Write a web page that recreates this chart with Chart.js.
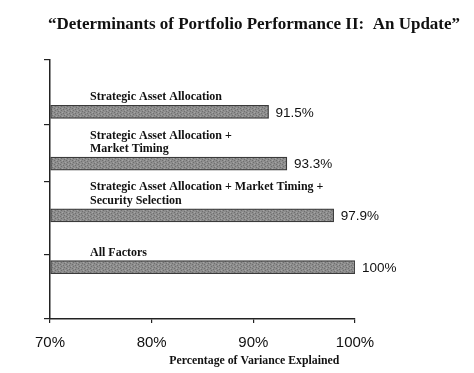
<!DOCTYPE html>
<html>
<head>
<meta charset="utf-8">
<script src="https://cdn.jsdelivr.net/npm/chart.js@4.4.0/dist/chart.umd.min.js"></script>
<style>
  html, body { margin: 0; padding: 0; background: #fff; }
  #wrap { width: 474px; height: 373px; }
</style>
</head>
<body>
<div id="wrap"><canvas id="chart"></canvas></div>
<script>
  'use strict';
  // data
  var categories = [
    ['Strategic Asset Allocation'],
    ['Strategic Asset Allocation +', 'Market Timing'],
    ['Strategic Asset Allocation + Market Timing +', 'Security Selection'],
    ['All Factors']
  ];
  var positions = [1, 2, 3, 4];
  var values = [91.5, 93.3, 97.9, 100];
  var valueLabels = ['91.5%', '93.3%', '97.9%', '100%'];
  var xTicks = [70, 80, 90, 100];
  var yTickMarks = [0, 1.25, 2.35, 3.75, 5];
  var chartTitle = '\u201cDeterminants of Portfolio Performance II:  An Update\u201d';
  var xTitle = 'Percentage of Variance Explained';

  var serif = '"Liberation Serif", "Times New Roman", serif';
  var sans = '"Liberation Sans", Arial, sans-serif';

  function each(arr, fn) { for (var i = 0; i < arr.length; i++) fn(i, arr[i]); }

  var points = [];
  each(values, function(i, v) {
    points.push({ x: v, y: positions[i] });
  });

  // stippled grey fill like the scanned bars
  function makeStipple() {
    var c = document.createElement('canvas');
    c.width = 6; c.height = 4;
    var g = c.getContext('2d');
    g.fillStyle = '#8e8e8e';
    g.fillRect(0, 0, 6, 4);
    g.fillStyle = '#6f6f6f';
    g.fillRect(0, 0, 1, 1); g.fillRect(3, 1, 1, 1);
    g.fillRect(1, 2, 1, 1); g.fillRect(4, 3, 1, 1);
    g.fillStyle = '#a6a6a6';
    g.fillRect(2, 0, 1, 1); g.fillRect(5, 2, 1, 1);
    return g.createPattern(c, 'repeat');
  }

  var textPlugin = {
    id: 'texts',
    afterDatasetsDraw: function(chart) {
      var ctx = chart.ctx;
      var xs = chart.scales.x;
      var meta = chart.getDatasetMeta(0);
      ctx.save();
      ctx.fillStyle = '#111';
      // title
      ctx.font = 'bold 17px ' + serif;
      ctx.textAlign = 'center';
      ctx.textBaseline = 'middle';
      ctx.fillText(chartTitle, 254, 25);
      // x title
      ctx.font = 'bold 11.8px ' + serif;
      ctx.fillText(xTitle, xs.getPixelForValue(90) + 1, 361);
      // labels above bars and values to the right
      each(meta.data, function(i, bar) {
        var top = bar.y - bar.height / 2;
        var lines = categories[i];
        ctx.font = 'bold 12px ' + serif;
        ctx.textAlign = 'left';
        ctx.textBaseline = 'alphabetic';
        for (var k = 0; k < lines.length; k++) {
          var yy = top - 5 - (lines.length - 1 - k) * 13.5;
          ctx.fillText(lines[k], 90, yy);
        }
        ctx.font = '13.5px ' + sans;
        ctx.textBaseline = 'middle';
        ctx.fillText(valueLabels[i], bar.x + 7, bar.y + 1);
      });
      ctx.restore();
    }
  };

  new Chart(document.getElementById('chart'), {
    type: 'bar',
    data: {
      datasets: [{
        data: points,
        base: 70,
        backgroundColor: makeStipple(),
        borderColor: '#3a3a3a',
        borderWidth: 1.2,
        borderSkipped: false,
        barThickness: 13
      }]
    },
    plugins: [textPlugin],
    options: {
      indexAxis: 'y',
      responsive: true,
      maintainAspectRatio: false,
      animation: false,
      layout: { padding: { top: 60, right: 119, left: 0, bottom: 0 } },
      plugins: {
        legend: { display: false },
        tooltip: { enabled: false }
      },
      scales: {
        x: {
          type: 'linear',
          min: 70,
          max: 100,
          afterBuildTicks: function(scale) {
            scale.ticks = xTicks.map(function(v) { return { value: v }; });
          },
          afterFit: function(scale) { scale.height = 54; },
          border: { display: true, color: '#222', width: 1.5 },
          grid: { drawOnChartArea: false, drawTicks: true, tickLength: 4, color: '#222', lineWidth: 1.2 },
          ticks: {
            padding: 11,
            color: '#111',
            font: { family: sans, size: 15 },
            maxRotation: 0,
            callback: function(v) { return v + '%'; }
          }
        },
        y: {
          type: 'linear',
          reverse: true,
          offset: false,
          min: 0,
          max: 5,
          afterBuildTicks: function(scale) {
            scale.ticks = yTickMarks.map(function(v) { return { value: v }; });
          },
          afterFit: function(scale) { scale.width = 50; },
          border: { display: true, color: '#222', width: 1.5 },
          grid: { offset: false, drawOnChartArea: false, drawTicks: true, tickLength: 6, color: '#222', lineWidth: 1.2 },
          ticks: { display: false }
        }
      }
    }
  });
</script>
</body>
</html>
